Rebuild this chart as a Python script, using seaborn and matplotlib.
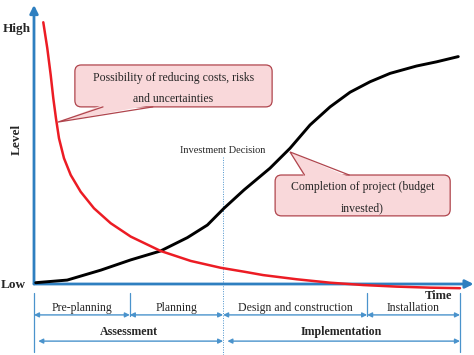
import numpy as np
import pandas as pd
import matplotlib.pyplot as plt
import seaborn as sns
from matplotlib.patches import FancyBboxPatch, Polygon

# Curves (time 0-100, level 0-100)
red_time = [2.18, 3.12, 3.92, 4.53, 5.16, 5.87, 7.04, 8.62, 10.96, 14.08, 18.0, 22.7, 29.74, 36.8,
            43.8, 49.3, 53.8, 61.7, 69.5, 77.3, 85.1, 93.0, 100.0]
red_level = [99.9, 90.0, 79.8, 70.9, 63.2, 55.6, 48.0, 41.6, 35.2, 28.9, 23.2, 18.1, 12.6, 8.8,
             6.2, 4.7, 3.4, 1.8, 0.5, -0.4, -1.0, -1.4, -1.6]
black_time = [0.4, 7.8, 15.7, 22.7, 29.7, 36.0, 40.7, 44.6, 49.3, 55.4, 60.1, 64.8, 69.5, 74.2,
              78.9, 83.6, 89.8, 94.5, 99.6]
black_level = [0.5, 1.5, 5.3, 9.2, 12.6, 17.7, 22.5, 28.9, 35.9, 44.2, 51.8, 60.7, 67.6, 73.2,
               77.2, 80.4, 83.2, 84.8, 86.8]

phase_names = ["Pre-planning", "Planning", "Design and construction", "Installation"]
phase_bounds = [0, 22.5, 44.4, 78.2, 100]
stage_names = ["Assessment", "Implementation"]
stage_bounds = [0, 44.4, 100]
decision_time = 44.4

red_df = pd.DataFrame({"time": red_time, "level": red_level})
black_df = pd.DataFrame({"time": black_time, "level": black_level})

sns.set_theme(style="white")
plt.rcParams["font.family"] = ["Liberation Serif", "DejaVu Serif"]

BLUE = "#2e7fc0"
LBLUE = "#4a93cc"
FILL = "#f9d8da"
EDGE = "#b0454d"

fig = plt.figure(figsize=(4.74, 3.55), dpi=100)
ax = fig.add_axes([0, 0, 1, 1])

# axes arrows
ax.annotate("", xy=(0, 106.5), xytext=(0, 0),
            arrowprops=dict(arrowstyle="-|>", color=BLUE, lw=2, shrinkA=0, shrinkB=0, mutation_scale=12))
ax.annotate("", xy=(103.2, 0), xytext=(0, 0),
            arrowprops=dict(arrowstyle="-|>", color=BLUE, lw=2, shrinkA=0, shrinkB=0, mutation_scale=12))

sns.lineplot(data=black_df, x="time", y="level", sort=False, color="black", lw=2.1, ax=ax, zorder=3)
sns.lineplot(data=red_df, x="time", y="level", sort=False, color="#ec1c24", lw=1.8, ax=ax, zorder=4)
for ln in ax.lines:
    ln.set_solid_joinstyle("round")
    ln.set_solid_capstyle("round")
ax.set_xlim(-7.98, 103.29)
ax.set_ylim(-27.10, 108.40)
ax.axis("off")

# investment decision
ax.plot([decision_time, decision_time], [48.5, -27.1], color=LBLUE, lw=0.7, ls=(0, (1, 1.5)))
ax.text(decision_time, 50.8, "Investment Decision", ha="center", va="center", fontsize=7.5)

# phase ticks
for b in phase_bounds:
    if b == decision_time:
        continue
    low = -26.0 if b in (0, 100) else -12.2
    ax.plot([b, b], [-3.4, low], color=LBLUE, lw=0.9)

for i, name in enumerate(phase_names):
    a, b = phase_bounds[i], phase_bounds[i + 1]
    ax.annotate("", xy=(b, -11.8), xytext=(a, -11.8),
                arrowprops=dict(arrowstyle="<|-|>", color=LBLUE, lw=1, shrinkA=0, shrinkB=0, mutation_scale=7))
    ax.text((a + b) / 2, -9.1, name, ha="center", va="center", fontsize=8.5)

for i, name in enumerate(stage_names):
    a, b = stage_bounds[i], stage_bounds[i + 1]
    ax.annotate("", xy=(b, -21.8), xytext=(a + 1, -21.8),
                arrowprops=dict(arrowstyle="<|-|>", color=LBLUE, lw=1, shrinkA=0, shrinkB=0, mutation_scale=7))
    ax.text((a + b) / 2, -18.3, name, ha="center", va="center", fontsize=8.6, fontweight="bold")

# axis labels
ax.text(-4.0, 97.3, "High", ha="center", va="center", fontsize=9.5, fontweight="bold")
ax.text(-4.9, -0.4, "Low", ha="center", va="center", fontsize=9.5, fontweight="bold")
ax.text(-4.0, 55.0, "Level", ha="center", va="center", fontsize=9.5, fontweight="bold", rotation=90)
ax.text(98.2, -4.6, "Time", ha="right", va="center", fontsize=9, fontweight="bold")

# callouts
def callout(x0, x1, y0, y1, tip, base, text):
    box = FancyBboxPatch((x0, y0), x1 - x0, y1 - y0,
                         boxstyle="round,pad=0,rounding_size=1.5", mutation_aspect=1.626,
                         fc=FILL, ec=EDGE, lw=0.9, zorder=5)
    ax.add_patch(box)
    by = y0 if tip[1] < y0 else y1
    inset = 0.8 if by == y0 else -0.8
    ax.add_patch(Polygon([tip, (base[0], by + inset), (base[1], by + inset)],
                         closed=True, fc=FILL, ec="none", zorder=6))
    ax.plot([base[0], tip[0], base[1]], [by, tip[1], by], color=EDGE, lw=0.9, zorder=6,
            solid_joinstyle="miter")
    ax.text((x0 + x1) / 2, (y0 + y1) / 2 - 0.8, text, ha="center", va="center",
            fontsize=8.5, linespacing=2.0, zorder=7)

callout(9.6, 55.9, 67.6, 83.6, (5.6, 61.8), (16.2, 27.9),
        "Possibility of reducing costs, risks\nand uncertainties")
callout(56.6, 97.7, 26.0, 41.6, (60.1, 50.4), (63.5, 74.0),
        "Completion of project (budget\ninvested)")

fig.savefig("out.png", dpi=100)
